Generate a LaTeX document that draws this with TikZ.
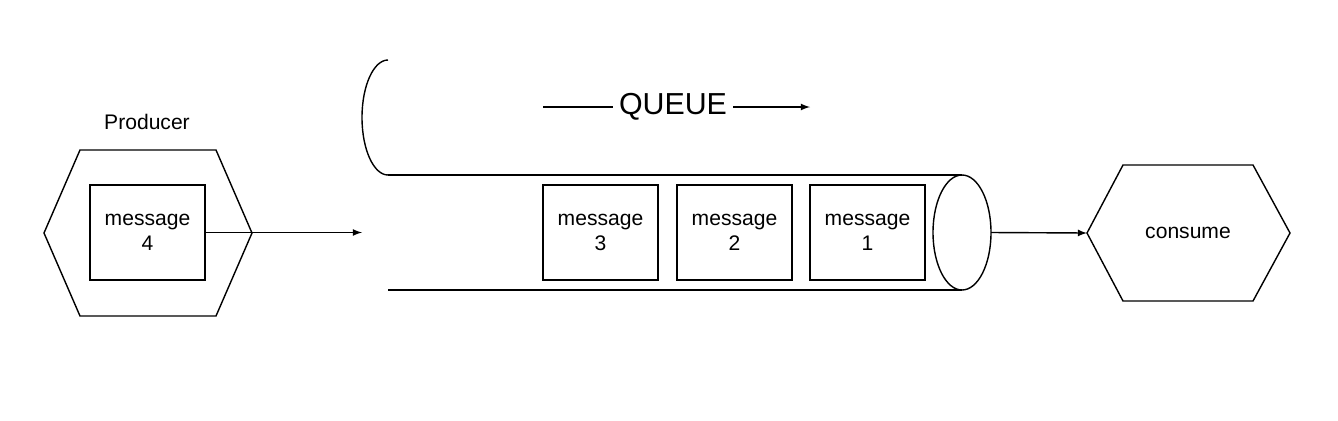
\documentclass[tikz,border=0pt]{standalone}
\usepackage{fontspec}
\setmainfont{Liberation Sans}
\begin{document}
\begin{tikzpicture}[x=0.02cm, y=-0.02cm,
  msg/.style={draw, thick, minimum width=2.3cm, minimum height=1.9cm, align=center, font=\large},
  flow/.style={thick, -latex},
]
  \useasboundingbox (0,0) rectangle (1338,420);
  % Producer
  \draw[thick] (44,233) -- (80,150) -- (216,150) -- (252,233) -- (216,316) -- (80,316) -- cycle;
  \node[font=\large] (prodlbl) at (147,122) {Producer};
  \node[msg] (m4) at (147.5,232.5) {message\\4};
  % Queue cylinder
  \draw[thick] (388,175) -- (962,175);
  \draw[thick] (388,290) -- (962,290);
  \draw[thick] (388,175) arc[start angle=90, end angle=270, x radius=26, y radius=57.5];
  \draw[thick] (962,232.5) ellipse[x radius=29, y radius=57.5];
  \coordinate (qin) at (362,232.5);
  \coordinate (qout) at (991,232.5);
  \node[msg] (m3) at (600.5,232.5) {message\\3};
  \node[msg] (m2) at (734.5,232.5) {message\\2};
  \node[msg] (m1) at (867.5,232.5) {message\\1};
  % Consumer
  \draw[thick] (1087,233) -- (1123,165) -- (1253,165) -- (1290,233) -- (1253,301) -- (1123,301) -- cycle;
  \node[font=\large] (cons) at (1188,233) {consume};
  \coordinate (cin) at (1087,233);
  % Arrows
  \draw[flow] (m4.east) -- (qin);
  \draw[flow] (qout) -- (cin);
  % Queue label
  \node[font=\LARGE] (qlbl) at (673,107) {QUEUE};
  \coordinate (qa) at (543,107);
  \coordinate (qb) at (810,107);
  \draw[thick] (qa) -- (qlbl.west);
  \draw[flow] (qlbl.east) -- (qb);
\end{tikzpicture}
\end{document}
